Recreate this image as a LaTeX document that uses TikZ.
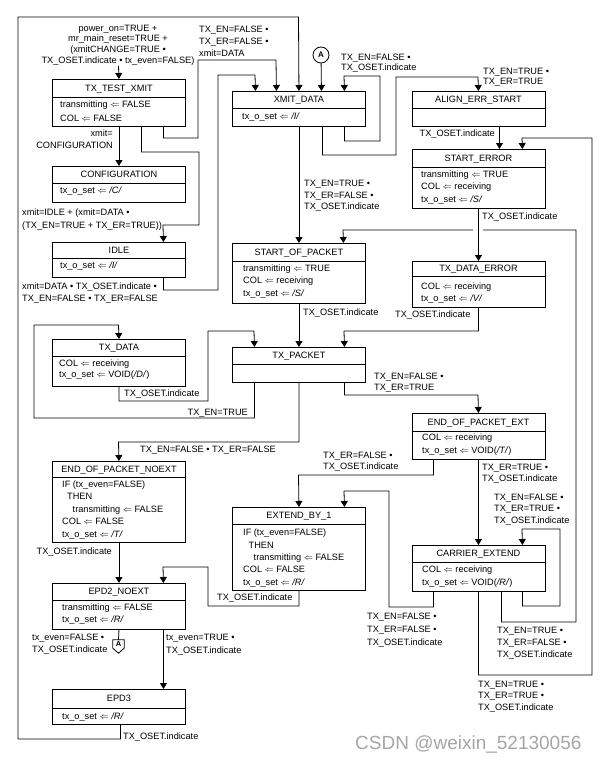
\documentclass[tikz,border=0pt]{standalone}
\usepackage{fontspec}
\setmainfont{Liberation Sans}
\usetikzlibrary{arrows.meta}
\newcommand{\fs}{\fontsize{9.2}{11.5}\selectfont}
\newcommand{\lar}{$\Leftarrow$}
\newcommand{\bul}{\textbullet}
\newcommand{\statebox}[6]{%
  \node[box, minimum height=#4pt] (#1) at (#2,#3) {};
  \draw[sepl] ([yshift=-#5pt]#1.north west) -- ([yshift=-#5pt]#1.north east);
  \node[ttl, anchor=base] (#1-t) at ([yshift={-#5pt/2-3.3pt}]#1.north) {#6};
}
\tikzset{
  box/.style={draw, line width=0.9pt, minimum width=133pt, inner sep=0pt, anchor=north west},
  sepl/.style={line width=0.9pt},
  ttl/.style={inner sep=0pt, font=\fs},
  body/.style={inner sep=0pt, anchor=north west, align=left, font=\fs},
  lab/.style={inner sep=0pt, align=left, font=\fs},
  arr/.style={line width=0.8pt, -{Triangle[length=6pt,width=7pt]}},
  wire/.style={line width=0.8pt},
}
\begin{document}
\begin{tikzpicture}[x=1pt,y=-1pt]
\useasboundingbox (0,0) rectangle (602,760);
% ---------- states ----------
\statebox{tt}{52}{79}{47}{18}{TX\_TEST\_XMIT}
\statebox{cf}{52}{166}{36}{17}{CONFIGURATION}
\statebox{idle}{52}{242}{35}{16}{IDLE}
\statebox{td}{52}{339}{47}{17}{TX\_DATA}
\statebox{eopn}{52}{461}{81}{16}{END\_OF\_PACKET\_NOEXT}
\statebox{e2}{52}{583}{46}{17}{EPD2\_NOEXT}
\statebox{e3}{52}{689}{35}{19}{EPD3}
\statebox{xd}{232}{91}{35}{17}{XMIT\_DATA}
\statebox{sop}{232}{243}{60}{18}{START\_OF\_PACKET}
\statebox{tp}{232}{347}{35}{17}{TX\_PACKET}
\statebox{eb1}{232}{507}{83}{17}{EXTEND\_BY\_1}
\statebox{aes}{411.5}{91}{35}{17}{ALIGN\_ERR\_START}
\statebox{se}{411.5}{149}{59}{18}{START\_ERROR}
\statebox{tde}{411.5}{261}{46}{15}{TX\_DATA\_ERROR}
\statebox{eope}{411.5}{413}{46}{18}{END\_OF\_PACKET\_EXT}
\statebox{ce}{411.5}{545}{46}{17}{CARRIER\_EXTEND}
% ---------- state bodies ----------
\node[body, font=\fontsize{9.2}{14}\selectfont] (tt-b) at (60,100.6) {transmitting \lar{} FALSE\\COL \lar{} FALSE};
\node[body] (cf-b) at (60,186.6) {tx\_o\_set \lar{} \textit{/C/}};
\node[body] (idle-b) at (60,261.6) {tx\_o\_set \lar{} \textit{/I/}};
\node[body, font=\fontsize{9.2}{11.6}\selectfont] (td-b) at (59,359.3) {COL \lar{} receiving\\tx\_o\_set \lar{} VOID(\textit{/D/})};
\node[body, font=\fontsize{9.2}{12.5}\selectfont] (eopn-b) at (62,480.6) {IF (tx\_even=FALSE)\\\hspace*{5pt}THEN\\\hspace*{10.5pt}transmitting \lar{} FALSE\\COL \lar{} FALSE\\tx\_o\_set \lar{} \textit{/T/}};
\node[body, font=\fontsize{9.2}{12.6}\selectfont] (e2-b) at (62,603.3) {transmitting \lar{} FALSE\\tx\_o\_set \lar{} \textit{/R/}};
\node[body] (e3-b) at (62,712.6) {tx\_o\_set \lar{} \textit{/R/}};
\node[body] (xd-b) at (242,113.1) {tx\_o\_set \lar{} \textit{/I/}};
\node[body, font=\fontsize{9.2}{12.5}\selectfont] (sop-b) at (243,264.3) {transmitting \lar{} TRUE\\COL \lar{} receiving\\tx\_o\_set \lar{} \textit{/S/}};
\node[body, font=\fontsize{9.2}{12.35}\selectfont] (eb1-b) at (243,528.9) {IF (tx\_even=FALSE)\\\hspace*{5.5pt}THEN\\\hspace*{10.5pt}transmitting \lar{} FALSE\\COL \lar{} FALSE\\tx\_o\_set \lar{} \textit{/R/}};
\node[body, font=\fontsize{9.2}{12.5}\selectfont] (se-b) at (421,170.6) {transmitting \lar{} TRUE\\COL \lar{} receiving\\tx\_o\_set \lar{} \textit{/S/}};
\node[body, font=\fontsize{9.2}{12}\selectfont] (tde-b) at (421,282.3) {COL \lar{} receiving\\tx\_o\_set \lar{} \textit{/V/}};
\node[body, font=\fontsize{9.2}{12.7}\selectfont] (eope-b) at (422,433.9) {COL \lar{} receiving\\tx\_o\_set \lar{} VOID(\textit{/T/})};
\node[body, font=\fontsize{9.2}{12.7}\selectfont] (ce-b) at (422,565.6) {COL \lar{} receiving\\tx\_o\_set \lar{} VOID(\textit{/R/})};
% ---------- connector helpers ----------
\coordinate (entry) at (118.5,66);
\node[draw, circle, line width=0.8pt, minimum size=16pt, inner sep=0pt, font=\bfseries\fontsize{8}{9}\selectfont] (cA) at (321,55) {A};
\node[inner sep=0pt, minimum width=11pt, minimum height=8pt, font=\bfseries\fontsize{7.5}{8}\selectfont] (offA) at (118.5,644) {A};
\draw[line width=0.8pt] (offA.north west) -- (offA.north east) -- (offA.south east) -- ([yshift=-5pt]offA.south) -- (offA.south west) -- cycle;
% ---------- connectors ----------
\draw[arr] (entry) -- (tt.north);
\draw[arr] (tt.south) -- (cf.north);
\draw[arr] ([xshift=44.5pt]tt.south) |- (198,138) |- (276,60) -- ([xshift=-22.5pt]xd.north);
\draw[arr] ([xshift=22.5pt]tt.south) |- (199,152) |- (163,225) -- ([xshift=44.5pt]idle.north);
\draw[arr] ([xshift=44.5pt]idle.south) |- (218,290) |- (255,75) -- ([xshift=-43.5pt]xd.north);
\draw[arr] (cA) -- ([xshift=22.5pt]xd.north);
\draw[arr] ([xshift=45.5pt]xd.south) |- (380,141) |- (344,76) -- ([xshift=45.5pt]xd.north);
\draw[arr] ([xshift=23.5pt]xd.south) |- (396,155) |- (478,77) -- (aes.north);
\draw[arr] (xd.south) -- (sop.north);
\draw[arr] ([xshift=21pt]aes.south) -- ([xshift=21pt]se.north);
\draw[arr] ([xshift=23pt]ce.south) |- (576,622) |- (343,230) -- ([xshift=44.5pt]sop.north);
\draw[arr, preaction={draw=white, line width=10pt, -, shorten <=4pt, shorten >=8pt}] (se.south) -- (tde.north);
\draw[arr] (ce.south) |- (592,675) |- (522,138) -- ([xshift=44pt]se.north);
\draw[arr] ([xshift=44pt]ce.south) |- (560,606) |- (522,529) -- ([xshift=44pt]ce.north);
\draw[arr] (eope.south) -- (ce.north);
\draw[arr] ([xshift=-45pt]eope.south) |- (298.5,475) -- (eb1.north);
\draw[arr] ([xshift=-45pt]ce.south) |- (389,607) |- (344,491) -- ([xshift=45.5pt]eb1.north);
\draw[arr] ([xshift=45.5pt]tp.south) |- (478,395) -- (eope.north);
\draw[arr] (tp.south) |- (118.5,442) -- (eopn.north);
\draw[arr] ([xshift=-44.5pt]tp.south) |- (34,418) |- (118.5,325) -- (td.north);
\draw[arr] (td.south) |- (208,401) |- (254,331) -- ([xshift=-44.5pt]tp.north);
\draw[arr] (sop.south) -- (tp.north);
\draw[arr] (tde.south) |- (344,331) -- ([xshift=45.5pt]tp.north);
\draw[arr] (eopn.south) -- (e2.north);
\draw[arr] (eb1.south) |- (208,606) |- (163,567) -- ([xshift=44.5pt]e2.north);
\draw[wire] (e2.south) -- (offA.north);
\draw[arr] ([xshift=44.5pt]e2.south) -- ([xshift=44.5pt]e3.north);
\draw[arr] ([xshift=1.5pt]e3.south) |- (18,739) |- (298.5,17) -- (xd.north);
% ---------- labels ----------
\node[lab, align=center, anchor=north, font=\fontsize{9.2}{10.7}\selectfont] (l1) at (118,24.6) {power\_on=TRUE +\\mr\_main\_reset=TRUE +\\(xmitCHANGE=TRUE \bul\\TX\_OSET.indicate \bul{} tx\_even=FALSE)};
\node[lab, align=right, anchor=north east, font=\fontsize{9.2}{12}\selectfont] (l2) at (113,129.6) {xmit=\\CONFIGURATION};
\node[lab, anchor=north west, font=\fontsize{9.2}{12}\selectfont] (l3) at (199,25.6) {TX\_EN=FALSE \bul\\TX\_ER=FALSE \bul\\xmit=DATA};
\node[lab, anchor=north west, font=\fontsize{9.2}{12.5}\selectfont] (l4) at (22,208.9) {xmit=IDLE + (xmit=DATA \bul\\(TX\_EN=TRUE + TX\_ER=TRUE))};
\node[lab, anchor=north west, font=\fontsize{9.2}{12.3}\selectfont] (l5) at (22,282.6) {xmit=DATA \bul{} TX\_OSET.indicate \bul\\TX\_EN=FALSE \bul{} TX\_ER=FALSE};
\node[lab, anchor=north west, font=\fontsize{9.2}{10.7}\selectfont] (l7) at (341,53.6) {TX\_EN=FALSE \bul\\TX\_OSET.indicate};
\node[lab, anchor=north west, font=\fontsize{9.2}{10.7}\selectfont] (l8) at (483,67.6) {TX\_EN=TRUE \bul\\TX\_ER=TRUE};
\node[lab, anchor=north west, font=\fontsize{9.2}{11.5}\selectfont] (l9) at (304,180.3) {TX\_EN=TRUE \bul\\TX\_ER=FALSE \bul\\TX\_OSET.indicate};
\node[lab, anchor=base east] (l10) at (495,136.3) {TX\_OSET.indicate};
\node[lab, anchor=base west] (l11) at (482,219.3) {TX\_OSET.indicate};
\node[lab, anchor=north west, font=\fontsize{9.2}{12}\selectfont] (l12) at (497,626.6) {TX\_EN=TRUE \bul\\TX\_ER=FALSE \bul\\TX\_OSET.indicate};
\node[lab, anchor=north west, font=\fontsize{9.2}{11.5}\selectfont] (l13) at (478,680.9) {TX\_EN=TRUE \bul\\TX\_ER=TRUE \bul\\TX\_OSET.indicate};
\node[lab, anchor=north west, font=\fontsize{9.2}{11.4}\selectfont] (l14) at (494,493.9) {TX\_EN=FALSE \bul\\TX\_ER=TRUE \bul\\TX\_OSET.indicate};
\node[lab, anchor=north west, font=\fontsize{9.2}{11.3}\selectfont] (l15) at (482,463.9) {TX\_ER=TRUE \bul\\TX\_OSET.indicate};
\node[lab, anchor=north west, font=\fontsize{9.2}{11.7}\selectfont] (l16) at (323,451.6) {TX\_ER=FALSE \bul\\TX\_OSET.indicate};
\node[lab, anchor=north west, font=\fontsize{9.2}{13}\selectfont] (l17) at (367,613.3) {TX\_EN=FALSE \bul\\TX\_ER=FALSE \bul\\TX\_OSET.indicate};
\node[lab, anchor=north west, font=\fontsize{9.2}{11}\selectfont] (l18) at (374,373.3) {TX\_EN=FALSE \bul\\TX\_ER=TRUE};
\node[lab, anchor=base west] (l19) at (140,452.8) {TX\_EN=FALSE \bul{} TX\_ER=FALSE};
\node[lab, anchor=base east] (l20) at (248,415.7) {TX\_EN=TRUE};
\node[lab, anchor=base west] (l21) at (124,396) {TX\_OSET.indicate};
\node[lab, anchor=base west] (l22) at (303,315) {TX\_OSET.indicate};
\node[lab, anchor=base west] (l23) at (395,317.5) {TX\_OSET.indicate};
\node[lab, anchor=base east] (l24) at (112,554) {TX\_OSET.indicate};
\node[lab, anchor=base west] (l25) at (217,600.5) {TX\_OSET.indicate};
\node[lab, anchor=north west, font=\fontsize{9.2}{11.3}\selectfont] (l26) at (32,634.3) {tx\_even=FALSE \bul\\TX\_OSET.indicate};
\node[lab, anchor=north west, font=\fontsize{9.2}{13}\selectfont] (l27) at (166,634.3) {tx\_even=TRUE \bul\\TX\_OSET.indicate};
\node[lab, anchor=base west] (l28) at (123,739) {TX\_OSET.indicate};
\node[inner sep=0pt, anchor=base west, text=black!35, font=\fontsize{19}{21}\selectfont] (wm) at (355,749) {CSDN @weixin\_52130056};
\end{tikzpicture}
\end{document}
